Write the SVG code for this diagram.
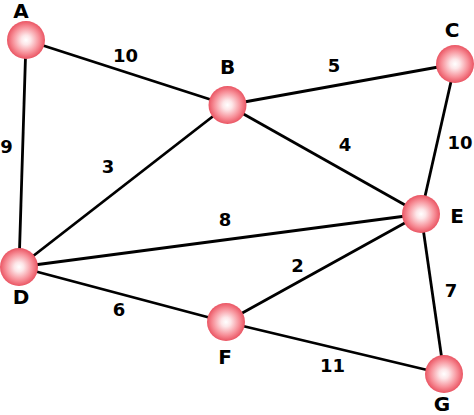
<svg xmlns="http://www.w3.org/2000/svg" width="474" height="415" viewBox="0 0 474 415">
<defs>
<radialGradient id="g" cx="0.5" cy="0.5" r="0.5">
<stop offset="0" stop-color="#ffffff"/>
<stop offset="0.25" stop-color="#fde6e8"/>
<stop offset="0.7" stop-color="#f78f98"/>
<stop offset="1" stop-color="#ea5563"/>
</radialGradient>
<style>
.e{stroke:#000;stroke-width:2.8;fill:none}
.n{fill:url(#g)}
.t{font-family:"DejaVu Sans",sans-serif;font-weight:bold;fill:#000;text-anchor:middle}
.nl{font-size:20px}
.el{font-size:18px}
</style>
</defs>
<rect width="474" height="415" fill="#fff"/>
<g id="edges">
<line class="e" x1="26" y1="40" x2="227.5" y2="105"/>
<line class="e" x1="26" y1="40" x2="19" y2="267"/>
<line class="e" x1="227.5" y1="105" x2="455" y2="64"/>
<line class="e" x1="227.5" y1="105" x2="19" y2="267"/>
<line class="e" x1="227.5" y1="105" x2="421" y2="214"/>
<line class="e" x1="455" y1="64" x2="421" y2="214"/>
<line class="e" x1="19" y1="267" x2="421" y2="214"/>
<line class="e" x1="19" y1="267" x2="226" y2="322"/>
<line class="e" x1="226" y1="322" x2="421" y2="214"/>
<line class="e" x1="421" y1="214" x2="444" y2="374"/>
<line class="e" x1="226" y1="322" x2="444" y2="374"/>
<g class="t el">
<text x="125.5" y="62">10</text>
<text x="334" y="72">5</text>
<text x="460" y="149">10</text>
<text x="6.5" y="153">9</text>
<text x="108" y="173">3</text>
<text x="345" y="151">4</text>
<text x="225" y="226">8</text>
<text x="297.5" y="272">2</text>
<text x="451" y="297">7</text>
<text x="119" y="316">6</text>
<text x="332.5" y="372">11</text>
</g>
</g>
<g id="A"><circle class="n" cx="26" cy="40" r="19"/><text class="t nl" x="21" y="18">A</text></g>
<g id="B"><circle class="n" cx="227.5" cy="105" r="19"/><text class="t nl" x="227.5" y="74">B</text></g>
<g id="C"><circle class="n" cx="455" cy="64" r="19"/><text class="t nl" x="452" y="37">C</text></g>
<g id="D"><circle class="n" cx="19" cy="267" r="19"/><text class="t nl" x="21" y="304">D</text></g>
<g id="E"><circle class="n" cx="421" cy="214" r="19"/><text class="t nl" x="457" y="223">E</text></g>
<g id="F"><circle class="n" cx="226" cy="322" r="19"/><text class="t nl" x="225" y="364">F</text></g>
<g id="G"><circle class="n" cx="444" cy="374" r="19"/><text class="t nl" x="442" y="411">G</text></g>
</svg>
